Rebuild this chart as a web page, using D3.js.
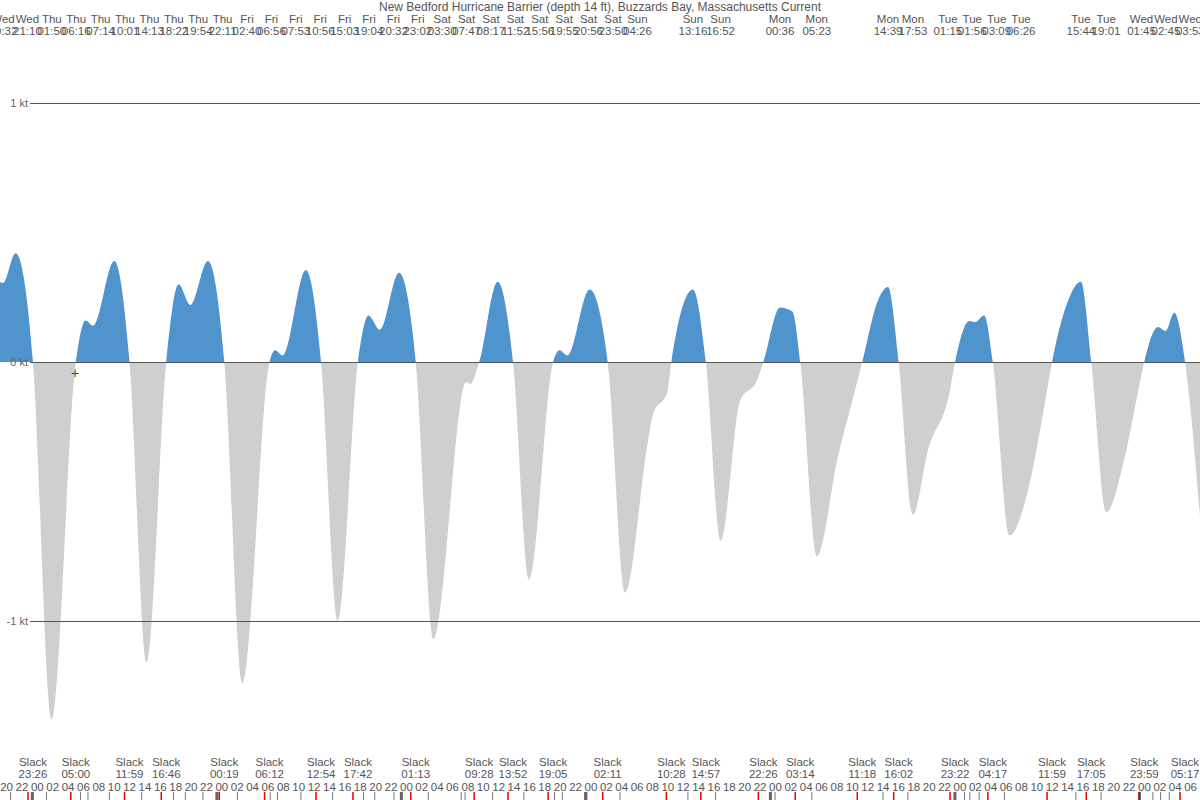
<!DOCTYPE html>
<html><head><meta charset="utf-8">
<script src="https://cdn.jsdelivr.net/npm/d3@7"></script>
<style>body{margin:0;background:#fff}svg{display:block;font-family:"Liberation Sans",Arial,sans-serif}</style>
</head><body><svg id="c" width="1200" height="800"></svg>
<script>
const title = "New Bedford Hurricane Barrier (depth 14 ft), Buzzards Bay, Massachusetts Current";
const dayNames = ["Wed","Thu","Fri","Sat","Sun","Mon","Tue","Wed"];
// slack times: [day index, "HH:MM"]
const slacks = [[0,"23:26"],[1,"05:00"],[1,"11:59"],[1,"16:46"],[2,"00:19"],[2,"06:12"],[2,"12:54"],[2,"17:42"],
 [3,"01:13"],[3,"09:28"],[3,"13:52"],[3,"19:05"],[4,"02:11"],[4,"10:28"],[4,"14:57"],[4,"22:26"],
 [5,"03:14"],[5,"11:18"],[5,"16:02"],[5,"23:22"],[6,"04:17"],[6,"11:59"],[6,"17:05"],[6,"23:59"],[7,"05:17"]];
// extremes (labelled at top): [day, "HH:MM", knots]
const extremes = [[0,"19:32",0.305],[0,"21:10",0.42],[1,"01:50",-1.38],[1,"06:16",0.16],[1,"07:14",0.14],[1,"10:01",0.39],
 [1,"14:13",-1.16],[1,"18:22",0.30],[1,"19:54",0.22],[1,"22:11",0.39],[2,"02:40",-1.24],[2,"06:56",0.045],[2,"07:53",0.025],
 [2,"10:56",0.355],[2,"15:03",-1.0],[2,"19:04",0.18],[2,"20:32",0.125],[2,"23:02",0.345],[3,"03:30",-1.07],[3,"07:47",-0.078],
 [3,"08:17",-0.085],[3,"11:52",0.31],[3,"15:56",-0.84],[3,"19:55",0.045],[3,"20:56",0.025],[3,"23:50",0.28],[4,"04:26",-0.89],
 [4,"13:16",0.28],[4,"16:52",-0.69],[5,"00:36",0.21],[5,"05:23",-0.75],[5,"14:39",0.29],[5,"17:53",-0.59],[6,"01:15",0.158],
 [6,"01:56",0.154],[6,"03:09",0.18],[6,"06:26",-0.67],[6,"15:44",0.31],[6,"19:01",-0.58],[7,"01:45",0.135],[7,"02:45",0.12],[7,"03:53",0.19]];
// additional shape points (unlabelled): [hours since first Wed 00:00, knots]
const shapePts = [[19.1,0.31],[103.3,-0.33],[104.1,-0.2],[105.9,-0.12],[115.4,-0.15],[117.6,-0.07],[122.2,0.195],
 [128.1,-0.37],[130.0,-0.15],[133.3,0.235],[139.85,-0.34],[142.7,-0.11],[152.9,-0.49],[155.1,-0.15],
 [157.8,0.215],[165.5,-0.36],[167.2,-0.11],[175.4,-0.66]];
const yTicks = [1,0,-1];

const W=1200,H=800;
const hrs=(d,t)=>{const [a,b]=t.split(":").map(Number);return d*24+a+b/60;};
const x=d3.scaleLinear().domain([19.14,19.14+W/7.688]).range([0,W]);
const y=d3.scaleLinear().domain([-1,1]).range([621,103]);
const svg=d3.select("#c");
const pts=[...slacks.map(s=>[hrs(s[0],s[1]),0]),...extremes.map(e=>[hrs(e[0],e[1]),e[2]]),...shapePts].sort((a,b)=>a[0]-b[0]);

const defs=svg.append("defs");
defs.append("clipPath").attr("id","up").append("rect").attr("x",0).attr("y",0).attr("width",W).attr("height",y(0));
defs.append("clipPath").attr("id","dn").append("rect").attr("x",0).attr("y",y(0)).attr("width",W).attr("height",H-y(0));
const area=d3.area().x(d=>x(d[0])).y0(y(0)).y1(d=>y(d[1])).curve(d3.curveMonotoneX);

svg.append("path").datum(pts).attr("d",area).attr("fill","#4f94cd").attr("clip-path","url(#up)");
svg.append("path").datum(pts).attr("d",area).attr("fill","#cfcfcf").attr("clip-path","url(#dn)");
yTicks.forEach(t=>{
  if(t!==0) svg.append("line").attr("x1",30).attr("x2",W).attr("y1",y(t)+0.5).attr("y2",y(t)+0.5).attr("stroke","#555").attr("stroke-width",1);
  svg.append("text").attr("x",28).attr("y",y(t)+4).attr("text-anchor","end").attr("font-size",11).attr("fill","#666").text(t+" kt");
});
svg.append("line").attr("x1",30).attr("x2",W).attr("y1",y(0)+0.5).attr("y2",y(0)+0.5).attr("stroke","#555");
svg.append("text").attr("x",75).attr("y",378).attr("text-anchor","middle").attr("font-size",14).attr("fill","#444").text("+");

// label spreading: merge overlapping groups, centre each group on its members
function spread(ideals,gap,minX){
  const groups=[];
  ideals.forEach((p,i)=>{
    groups.push({idx:[i],pos:p});
    while(groups.length>1){
      const b=groups[groups.length-1],a=groups[groups.length-2];
      if(a.pos+a.idx.length*gap<=b.pos) break;
      const idx=a.idx.concat(b.idx);
      const pos=d3.mean(idx,(k,j)=>ideals[k]-j*gap);
      groups.splice(-2,2,{idx,pos});
    }
  });
  if(groups[0].pos<minX) groups[0].pos=minX;
  const out=[];
  groups.forEach(g=>g.idx.forEach((k,j)=>out[k]=g.pos+j*gap));
  return out;
}

svg.append("text").attr("x",600).attr("y",11).attr("text-anchor","middle").attr("font-size",12).attr("fill","#555").text(title);
const topX=spread(extremes.map(e=>x(hrs(e[0],e[1]))),24.4,3);
extremes.forEach((e,i)=>{
  svg.append("text").attr("x",topX[i]).attr("y",23).attr("text-anchor","middle").attr("font-size",11.5).attr("fill","#555").text(dayNames[e[0]]);
  svg.append("text").attr("x",topX[i]).attr("y",35).attr("text-anchor","middle").attr("font-size",11.5).attr("fill","#555").text(e[1]);
});
slacks.forEach(s=>{
  const xx=x(hrs(s[0],s[1]));
  svg.append("text").attr("x",xx).attr("y",766).attr("text-anchor","middle").attr("font-size",11.5).attr("fill","#555").text("Slack");
  svg.append("text").attr("x",xx).attr("y",778).attr("text-anchor","middle").attr("font-size",11.5).attr("fill","#555").text(s[1]);
});
const [h0,h1]=x.domain();
for(let h=Math.ceil(h0/2)*2; h<=h1; h+=2){
  svg.append("text").attr("x",x(h)).attr("y",791).attr("text-anchor","middle").attr("font-size",11.5).attr("fill","#555").text(d3.format("02")(h%24));
}
const tk=(h,c,w)=>svg.append("line").attr("x1",x(h)-5).attr("x2",x(h)-5).attr("y1",792).attr("y2",800).attr("stroke",c).attr("stroke-width",w);
extremes.forEach(e=>tk(hrs(e[0],e[1]),"#777",1));
for(let d=1;d<=7;d++) tk(d*24,"#666",3);
slacks.forEach(s=>tk(hrs(s[0],s[1]),"#e00",1.5));
</script></body></html>
